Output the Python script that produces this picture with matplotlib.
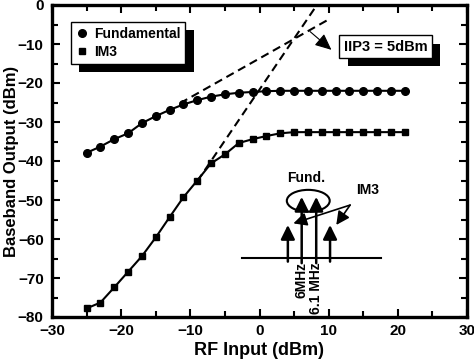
import matplotlib
matplotlib.use("Agg")
import matplotlib.pyplot as plt
import matplotlib.patheffects as pe
from matplotlib.lines import Line2D
from matplotlib.patches import Ellipse

# measured curves
rf_input = [-25, -23, -21, -19, -17, -15, -13, -11, -9, -7, -5, -3,
            -1, 1, 3, 5, 7, 9, 11, 13, 15, 17, 19, 21]
fundamental = [-37.9, -36.3, -34.4, -32.9, -30.3, -28.5, -26.9, -25.5,
               -24.4, -23.5, -22.9, -22.5, -22.3, -22.1, -22.0, -22.0,
               -22.0, -22.0, -22.0, -22.0, -22.0, -22.0, -22.0, -22.0]
im3 = [-77.8, -76.3, -72.4, -68.4, -64.4, -59.6, -54.4, -49.3,
       -45.0, -40.6, -38.3, -35.4, -34.4, -33.6, -32.9, -32.6,
       -32.6, -32.6, -32.6, -32.6, -32.6, -32.6, -32.6, -32.6]

# extrapolated slopes (dashed)
fund_fit_x = [-11.5, 10.0]
fund_fit_y = [-25.2, -3.7]
im3_fit_x = [-9.0, 8.3]
im3_fit_y = [-45.2, 0.0]

# inset spectrum sketch
tone_x = [6.1, 8.2]
tone_labels = ["6MHz", "6.1 MHz"]
im3_x = [4.1, 10.2]

plt.rcParams["font.family"] = ["Liberation Sans", "DejaVu Sans"]
plt.rcParams["font.weight"] = "bold"

fig = plt.figure(figsize=(4.74, 3.64), dpi=100)
ax = fig.add_axes([52 / 474, 1 - 317 / 364, 415 / 474, 312 / 364])

ax.plot(rf_input, fundamental, color="k", lw=1.5, marker="o", ms=5.5)
ax.plot(rf_input, im3, color="k", lw=1.5, marker="s", ms=4.5)
ax.plot(fund_fit_x, fund_fit_y, color="k", lw=1.5, dashes=(4, 2.4))
ax.plot(im3_fit_x, im3_fit_y, color="k", lw=1.5, dashes=(4, 2.4))

ax.set_xlim(-30, 30)
ax.set_ylim(-80, 0)
ax.set_xticks([-30, -20, -10, 0, 10, 20, 30])
ax.set_xticks([-25, -15, -5, 5, 15, 25], minor=True)
ax.set_yticks([-80, -70, -60, -50, -40, -30, -20, -10, 0])
ax.set_yticks([-75, -65, -55, -45, -35, -25, -15, -5], minor=True)
ax.tick_params(which="both", direction="in", top=True, right=True, width=1.5,
               labelsize=11)
ax.tick_params(which="major", length=6)
ax.tick_params(which="minor", length=4)
ax.tick_params(axis="x", pad=5)
ax.tick_params(axis="y", pad=6)
for s in ax.spines.values():
    s.set_linewidth(2.4)

ax.set_xlabel("RF Input (dBm)", fontsize=13, fontweight="bold", labelpad=3)
ax.set_ylabel("Baseband Output (dBm)", fontsize=12, fontweight="bold")
ax.yaxis.set_label_coords(-0.08, 0.5)

# legend with solid drop shadow
handles = [
    Line2D([], [], color="k", ls="none", marker="o", ms=5.5, label="Fundamental"),
    Line2D([], [], color="k", ls="none", marker="s", ms=4.5, label="IM3"),
]
leg = ax.legend(handles=handles, loc="upper left", bbox_to_anchor=(0.046, 0.946),
                borderaxespad=0, fancybox=False, framealpha=1, edgecolor="k",
                handlelength=0.8, handletextpad=0.5, borderpad=0.35,
                labelspacing=0.3, prop={"size": 10, "weight": "bold"})
leg.get_frame().set_linewidth(1.0)
leg.get_frame().set_path_effects([
    pe.SimplePatchShadow(offset=(6, -6), shadow_rgbFace="k", alpha=1.0),
    pe.Normal(),
])

# IIP3 callout
ax.annotate("", xy=(10.4, -11.5), xytext=(7.3, -6.8),
            arrowprops=dict(arrowstyle="-|>,head_length=1.0,head_width=0.45",
                            color="k", lw=0.8, shrinkA=0, shrinkB=0))
t = ax.text(18.2, -10.7, "IIP3 = 5dBm", ha="center", va="center",
            fontsize=10.5, fontweight="bold",
            bbox=dict(boxstyle="square,pad=0.3", fc="white", ec="k", lw=1.0))
t.get_bbox_patch().set_path_effects([
    pe.SimplePatchShadow(offset=(6, -6), shadow_rgbFace="k", alpha=1.0),
    pe.Normal(),
])

# inset spectrum
ax.plot([-2.5, 17.5], [-64.9, -64.9], color="k", lw=1.5)
arrow_kw = dict(arrowstyle="-|>,head_length=0.85,head_width=0.42", color="k",
                lw=1.8, shrinkA=0, shrinkB=0)
for x in tone_x:
    ax.annotate("", xy=(x, -49.2), xytext=(x, -66.2), arrowprops=arrow_kw)
for x in im3_x:
    ax.annotate("", xy=(x, -56.4), xytext=(x, -65.8), arrowprops=arrow_kw)
for x, lab in zip(tone_x, tone_labels):
    ax.text(x, -66.0, lab, rotation=90, ha="center", va="top",
            fontsize=10, fontweight="bold")
ax.add_patch(Ellipse((7.05, -50.2), 6.2, 5.6, fill=False, ec="k", lw=1.5))
ax.text(6.8, -44.4, "Fund.", ha="center", va="center", fontsize=10,
        fontweight="bold")
ax.text(15.7, -47.4, "IM3", ha="center", va="center", fontsize=10,
        fontweight="bold")
im3_arrow_kw = dict(arrowstyle="-|>,head_length=0.8,head_width=0.4", color="k",
                    lw=1.2, shrinkA=0, shrinkB=0)
ax.annotate("", xy=(4.9, -56.0), xytext=(13.1, -51.3), arrowprops=im3_arrow_kw)
ax.annotate("", xy=(11.1, -56.4), xytext=(13.1, -51.3), arrowprops=im3_arrow_kw)

fig.savefig("out.png", dpi=100)
